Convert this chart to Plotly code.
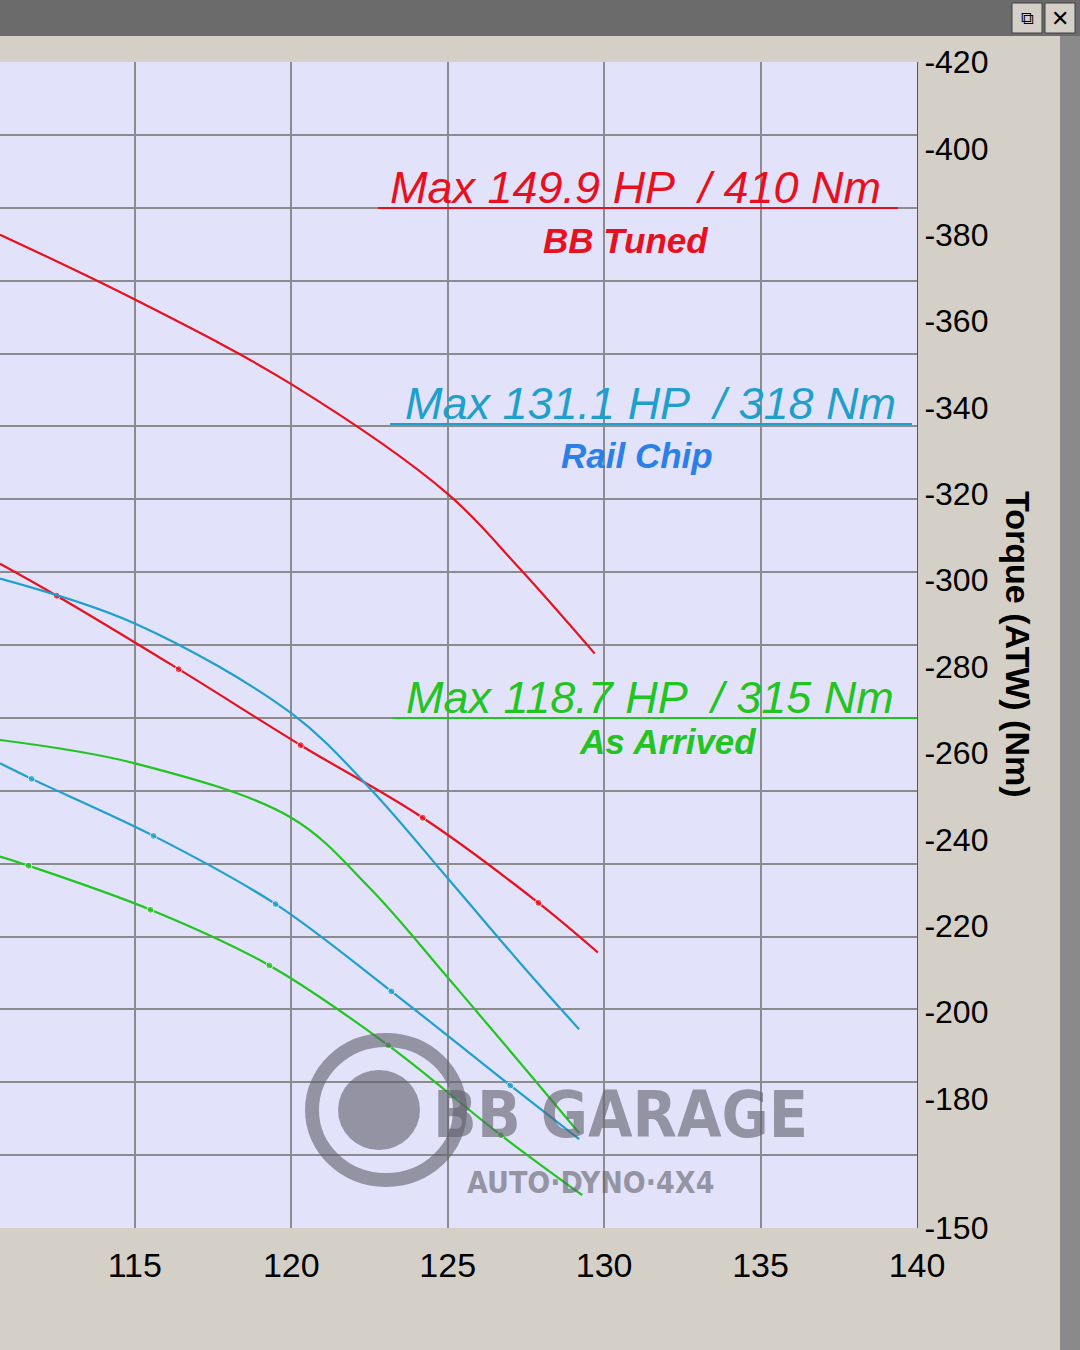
import plotly.graph_objects as go

# speed (km/h) vs torque (Nm)
red_top_x = [110.69, 115.0, 120.0, 125.0, 127.3, 129.7]
red_top_y = [380.0, 365.0, 345.4, 320.0, 302.7, 283.0]
red_low_x = [110.69, 112.5, 116.4, 120.3, 124.2, 127.9, 129.8]
red_low_y = [303.8, 296.4, 279.4, 261.8, 245.0, 225.3, 213.8]
blue_top_x = [110.69, 115.0, 120.0, 122.5, 125.0, 127.3, 129.2]
blue_top_y = [300.4, 290.0, 269.2, 251.9, 231.0, 211.5, 196.0]
blue_low_x = [110.69, 111.7, 115.6, 119.5, 123.2, 127.0, 129.2]
blue_low_y = [257.6, 254.0, 240.8, 225.0, 204.8, 183.0, 170.6]
green_top_x = [110.69, 115.0, 120.0, 122.5, 125.0, 127.3, 129.2]
green_top_y = [263.0, 257.6, 245.0, 228.8, 208.0, 188.4, 172.0]
green_low_x = [110.69, 111.6, 115.5, 119.3, 123.1, 126.7, 129.3]
green_low_y = [236.0, 233.9, 223.7, 210.8, 192.3, 171.5, 157.6]

torque_ticks = [150, 180, 200, 220, 240, 260, 280, 300, 320, 340, 360, 380, 400, 420]
speed_ticks = [110, 115, 120, 125, 130, 135, 140]

RED = "#e8101e"
BLUE = "#1f9fcc"
GREEN = "#22c422"
WM = "rgba(95,95,105,0.6)"

fig = go.Figure()

def curve(x, y, color, dots):
    fig.add_trace(go.Scatter(
        x=x, y=y, mode="lines+markers" if dots else "lines",
        line=dict(color=color, width=2.2, shape="spline", smoothing=1.0),
        marker=dict(size=[0] + [7] * (len(x) - 2) + [0], color=color),
        showlegend=False))

curve(red_top_x, red_top_y, RED, False)
curve(red_low_x, red_low_y, RED, True)
curve(blue_top_x, blue_top_y, BLUE, False)
curve(blue_low_x, blue_low_y, BLUE, True)
curve(green_top_x, green_top_y, GREEN, False)
curve(green_low_x, green_low_y, GREEN, True)

# dummy trace on hidden left axis for horizontal grid
fig.add_trace(go.Scatter(x=[115], y=[0], yaxis="y2", mode="markers",
                         marker=dict(opacity=0), showlegend=False, hoverinfo="skip"))

W, H = 917, 1166  # plot area size in px (left 0, top 62)

def px(x):
    return x / W

def py(y):
    return (1228 - y) / H

anns = []
def text_at(text, x, y, color, size, family="Liberation Sans", angle=0):
    anns.append(dict(text=text, x=px(x), y=py(y), xref="paper", yref="paper",
                     xanchor="center", yanchor="middle", showarrow=False, textangle=angle,
                     font=dict(family=family, size=size, color=color)))

text_at("<i>Max 149.9 HP  / 410 Nm</i>", 635, 187, RED, 45)
text_at("<b><i>BB Tuned</i></b>", 625, 240, RED, 35)
text_at("<i>Max 131.1 HP  / 318 Nm</i>", 650, 403, BLUE, 45)
text_at("<b><i>Rail Chip</i></b>", 637, 455, "#2a80e6", 35)
text_at("<i>Max 118.7 HP  / 315 Nm</i>", 650, 697, GREEN, 45)
text_at("<b><i>As Arrived</i></b>", 667, 741, GREEN, 35)

text_at("<b>BB GARAGE</b>", 620, 1115, WM, 64, "DejaVu Sans Condensed")
text_at("<b>AUTO·DYNO·4X4</b>", 590, 1182, WM, 30, "DejaVu Sans Condensed")
text_at("<b>Torque (ATW) (Nm)</b>", 1018, 645, "black", 34, angle=90)

shapes = []
for x0, x1, y, c in [(378, 898, 208, RED), (390, 912, 424, BLUE), (392, 917, 718, GREEN)]:
    shapes.append(dict(type="line", xref="paper", yref="paper", x0=px(x0), x1=px(x1),
                       y0=py(y), y1=py(y), line=dict(color=c, width=2)))
# watermark gear logo
shapes.append(dict(type="circle", xref="paper", yref="paper", x0=px(312), x1=px(460),
                   y0=py(1180), y1=py(1040), line=dict(color=WM, width=14)))
shapes.append(dict(type="circle", xref="paper", yref="paper", x0=px(338), x1=px(420),
                   y0=py(1150), y1=py(1070), fillcolor=WM, line=dict(width=0)))
# window chrome
shapes.append(dict(type="rect", xref="paper", yref="paper", x0=px(-5), x1=px(1085),
                   y0=py(36), y1=py(-5), fillcolor="#6b6b6b", line=dict(width=0)))
shapes.append(dict(type="rect", xref="paper", yref="paper", x0=px(1060), x1=px(1085),
                   y0=py(1355), y1=py(36), fillcolor="#8a8a8a", line=dict(width=0)))
for bx in [1012, 1045]:
    shapes.append(dict(type="rect", xref="paper", yref="paper", x0=px(bx), x1=px(bx + 30),
                       y0=py(33), y1=py(3), fillcolor="#d4d0c8", line=dict(color="#404040", width=1)))
text_at("✕", 1060, 18, "black", 22)
text_at("⧉", 1027, 18, "black", 18)

fig.update_layout(
    width=1080, height=1350,
    margin=dict(l=0, r=163, t=62, b=122),
    paper_bgcolor="#d4d0c8", plot_bgcolor="#e2e2fa",
    annotations=anns, shapes=shapes,
    xaxis=dict(range=[110.69, 140], tickvals=speed_ticks, ticktext=[str(v) for v in speed_ticks],
               showgrid=True, gridcolor="#8c8c8c", gridwidth=1.5, zeroline=False,
               tickfont=dict(family="Liberation Sans", size=34, color="black"),
               ticks="", showline=False, ticklabelstandoff=14),
    yaxis=dict(range=[150, 420], side="right", tickvals=torque_ticks,
               ticktext=["-%d" % v for v in torque_ticks], showgrid=False, zeroline=False,
               tickfont=dict(family="Liberation Sans", size=32, color="black"), ticks="",
               showline=True, linecolor="#555555"),
    yaxis2=dict(range=[0, 16], overlaying="y", side="left", dtick=1, showgrid=True,
                gridcolor="#8c8c8c", gridwidth=1.5, showticklabels=False, zeroline=False),
)

fig.write_html("out.html", config={"displayModeBar": False},
               post_script="document.body.style.margin='0';")
